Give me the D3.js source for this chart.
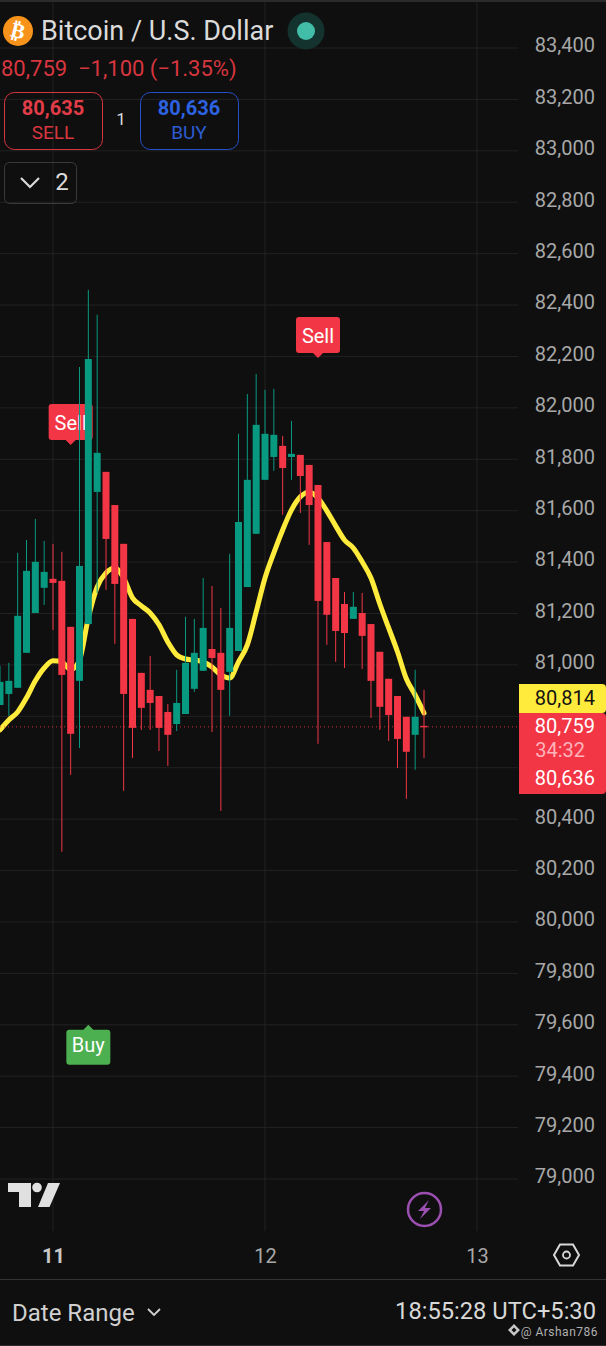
<!DOCTYPE html>
<html>
<head>
<meta charset="utf-8">
<script src="https://cdn.jsdelivr.net/npm/d3@7"></script>
<style>
  html, body { margin: 0; padding: 0; background: #0f0f0f; }
  svg { display: block; }
  text { font-family: Roboto, sans-serif; }
  .domain, .tick line { display: none; }
</style>
</head>
<body>
<div id="container"></div>
<script>
// hourly candles, hour 0 = start of the 11th
const hours = [-6,-5,-4,-3,-2,-1,0,1,2,3,4,5,6,7,8,9,10,11,12,13,14,15,16,17,18,19,20,21,22,23,24,25,26,27,28,29,30,31,32,33,34,35,36,37,38,39,40,41,42];
const opens = [80844,80887,80911,81047,81202,81300,81335,81327,81148,80938,81159,81673,81751,81622,81471,81179,80969,80903,80879,80817,80770,80809,80907,80977,81062,81047,80973,81054,81303,81510,81720,81809,81852,81809,81817,81778,81700,81478,81338,81237,81179,81202,81159,81051,80946,80879,80798,80728,80763];
const highs = [80996,81008,81436,81486,81568,81482,81471,81440,81148,82159,82459,82362,81751,81622,81471,81179,80969,81035,80879,80848,80981,81187,81179,81338,81307,81222,81432,81899,82054,82132,82070,82074,81891,81949,81817,81778,81700,81478,81338,81284,81284,81280,81159,81051,80946,80879,80798,80981,80903];
const lows = [80844,80802,80911,81047,81202,81233,81136,80273,80572,80677,81159,81280,81292,81082,80510,80638,80747,80747,80665,80607,80743,80809,80895,80977,80739,80432,80802,81054,81303,81510,81720,81755,81584,81720,81591,81467,80693,81078,81012,80988,81179,80984,80794,80747,80704,80599,80479,80592,80638];
const closes = [80934,80938,81191,81366,81401,81362,81319,80961,80732,81385,82190,81825,81490,81315,80887,80755,80833,80852,80755,80728,80852,81008,81047,81144,81027,80903,81144,81556,81720,81934,81899,81895,81766,81821,81735,81622,81249,81195,81132,81124,81226,81113,80938,80837,80805,80712,80662,80798,80759];
const maValues = [80747,80786,80817,80872,80938,80988,81016,81012,80981,81019,81183,81303,81358,81377,81338,81261,81230,81202,81156,81089,81039,81023,81019,81012,80992,80961,80949,81012,81078,81206,81338,81436,81525,81603,81654,81673,81650,81599,81541,81486,81455,81401,81338,81237,81144,81051,80946,80883,80813];

const priceTicks = [83400,83200,83000,82800,82600,82400,82200,82000,81800,81600,81400,81200,81000,80800,80600,80400,80200,80000,79800,79600,79400,79200,79000];
// 80,800 and 80,600 sit behind the price tags so they get no label
const priceLabels = [83400,83200,83000,82800,82600,82400,82200,82000,81800,81600,81400,81200,81000,80400,80200,80000,79800,79600,79400,79200,79000];
const dayTicks = [0,24,48];
const dayLabels = ["11","12","13"];

const signalNames = ["Sell","Sell","Buy"];
const signalHours = [2,30,4];
const signalPrices = [81856,82194,79600];

const lastPrice = 80759;

const width = 606, height = 1346, chartRight = 518, chartBottom = 1231;
const green = "#089981", red = "#f23645", yellow = "#ffeb3b", bg = "#0f0f0f", grid = "#222222", axisText = "#a8a8a8";

const xScale = d3.scaleLinear().domain([0,48]).range([53,477]);
const yScale = d3.scaleLinear().domain([83400,79000]).range([48,1179]);

const svg = d3.select("#container").append("svg")
  .attr("width",width)
  .attr("height",height)
  .style("background",bg);

svg.append("rect").attr("width",width).attr("height",2).attr("fill","#2b2b2b");

// grid
svg.append("g").selectAll("line").data(priceTicks).enter().append("line")
  .attr("x1",0).attr("x2",chartRight)
  .attr("y1",d => yScale(d)).attr("y2",d => yScale(d))
  .attr("stroke",grid);
svg.append("g").selectAll("line").data(dayTicks).enter().append("line")
  .attr("x1",d => xScale(d)).attr("x2",d => xScale(d))
  .attr("y1",2).attr("y2",chartBottom)
  .attr("stroke",grid);

// price axis, labels sit a little above their grid line
const yAxis = svg.append("g")
  .attr("transform","translate(595,-2.5)")
  .call(d3.axisRight(yScale).tickValues(priceLabels).tickFormat(d3.format(",")).tickSize(0).tickPadding(0));
yAxis.selectAll("text")
  .attr("text-anchor","end")
  .attr("fill",axisText)
  .style("font-size","20px")
  .style("font-family","Roboto, sans-serif");

const xAxis = svg.append("g")
  .attr("transform","translate(0,1249)")
  .call(d3.axisBottom(xScale).tickValues(dayTicks).tickFormat((d,i) => dayLabels[i]).tickSize(0).tickPadding(0));
xAxis.selectAll("text")
  .attr("fill",(d,i) => i === 0 ? "#c8c8c8" : axisText)
  .style("font-size","20px")
  .style("font-family","Roboto, sans-serif")
  .style("font-weight",(d,i) => i === 0 ? "700" : "400");

// moving average goes under the candles
const maLine = d3.line()
  .x((d,i) => xScale(hours[i]))
  .y(d => yScale(d))
  .curve(d3.curveMonotoneX);
svg.append("path")
  .attr("d",maLine(maValues))
  .attr("fill","none")
  .attr("stroke",yellow)
  .attr("stroke-width",5)
  .attr("stroke-linecap","round");

// last price line
svg.append("line")
  .attr("x1",0).attr("x2",chartRight)
  .attr("y1",yScale(lastPrice)).attr("y2",yScale(lastPrice))
  .attr("stroke",red)
  .attr("stroke-opacity",0.85)
  .attr("stroke-dasharray","1 3");

// signal labels, also under the candles
const signals = svg.append("g").selectAll("g").data(signalNames).enter().append("g")
  .attr("transform",(d,i) => `translate(${xScale(signalHours[i])},${yScale(signalPrices[i])})`);
signals.append("path")
  .attr("d",d => d === "Sell"
    ? "M-22,-38 a3,3 0 0 1 3,-3 h38 a3,3 0 0 1 3,3 v30 a3,3 0 0 1 -3,3 h-14 l-5,5 l-5,-5 h-14 a3,3 0 0 1 -3,-3 z"
    : "M-22,8 a3,3 0 0 1 3,-3 h14 l5,-5 l5,5 h14 a3,3 0 0 1 3,3 v29 a3,3 0 0 1 -3,3 h-38 a3,3 0 0 1 -3,-3 z")
  .attr("fill",d => d === "Sell" ? red : "#4caf50");
signals.append("text")
  .attr("x",0)
  .attr("y",d => d === "Sell" ? -15 : 27)
  .attr("text-anchor","middle")
  .attr("fill","#ffffff")
  .style("font-size","20px")
  .text(d => d);

// candles
const candles = svg.append("g").selectAll("g").data(hours).enter().append("g")
  .attr("fill",(d,i) => closes[i] >= opens[i] ? green : red)
  .attr("stroke",(d,i) => closes[i] >= opens[i] ? green : red);
candles.append("line")
  .attr("x1",d => xScale(d)).attr("x2",d => xScale(d))
  .attr("y1",(d,i) => yScale(highs[i]))
  .attr("y2",(d,i) => yScale(lows[i]))
  .attr("stroke-width",1);
candles.append("rect")
  .attr("x",d => xScale(d) - 3.5)
  .attr("width",7)
  .attr("y",(d,i) => yScale(Math.max(opens[i],closes[i])))
  .attr("height",(d,i) => Math.max(1.5,yScale(Math.min(opens[i],closes[i])) - yScale(Math.max(opens[i],closes[i]))))
  .attr("stroke","none");

// header
function addText(txt,x,y,size,fill,anchor,weight) {
  return svg.append("text")
    .attr("x",x).attr("y",y)
    .attr("dominant-baseline","central")
    .attr("text-anchor",anchor || "start")
    .attr("fill",fill)
    .style("font-size",size + "px")
    .style("font-weight",weight || 400)
    .text(txt);
}

svg.append("circle").attr("cx",18).attr("cy",31).attr("r",15).attr("fill","#f7931a");
addText("₿",18,31,21,"#ffffff","middle",700)
  .style("font-family","'DejaVu Sans'")
  .attr("transform","rotate(14 18 31)");
addText("Bitcoin / U.S. Dollar",41,31,27,"#dbdbdb");
svg.append("circle").attr("cx",306).attr("cy",31).attr("r",18.5).attr("fill","#14332e");
svg.append("circle").attr("cx",306).attr("cy",31).attr("r",9).attr("fill","#42bda8");

addText("80,759",1,68,22,"#d8363f");
addText("−1,100 (−1.35%)",78,68,22,"#d8363f");

svg.append("rect").attr("x",4.5).attr("y",92.5).attr("width",98).attr("height",57).attr("rx",10)
  .attr("fill","none").attr("stroke","#d8363f");
addText("80,635",53,108,20,"#e13c47","middle",700);
addText("SELL",53,132,19,"#d8363f","middle");
addText("1",121,119,17,"#dbdbdb","middle");
svg.append("rect").attr("x",140.5).attr("y",92.5).attr("width",98).attr("height",57).attr("rx",10)
  .attr("fill","none").attr("stroke","#2450c8");
addText("80,636",189,108,20,"#2d62e0","middle",700);
addText("BUY",189,132,19,"#2d5cd2","middle");

svg.append("rect").attr("x",4.5).attr("y",162.5).attr("width",72).attr("height",41).attr("rx",5)
  .attr("fill","none").attr("stroke","#3a3a3a");
svg.append("path").attr("d","M21,178 L30,187 L39,178").attr("fill","none").attr("stroke","#dbdbdb").attr("stroke-width",2.2);
addText("2",62,182,24,"#dbdbdb","middle");

// price tags on the right
const tagX = 519, tagW = 87;
svg.append("path")
  .attr("d",`M${tagX},684 h${tagW - 4} a4,4 0 0 1 4,4 v21 a4,4 0 0 1 -4,4 h-${tagW - 4} z`)
  .attr("fill",yellow);
svg.append("path")
  .attr("d",`M${tagX},713 h${tagW - 4} a4,4 0 0 1 4,4 v73 a4,4 0 0 1 -4,4 h-${tagW - 4} z`)
  .attr("fill",red);
addText("80,814",595,697.5,20,"#131313","end");
addText("80,759",595,726,20,"#ffffff","end");
addText("34:32",585,750,20,"#ffb3bb","end");
addText("80,636",595,778,20,"#ffffff","end");

// logo and icons
svg.append("path")
  .attr("d","M8,1183 H31 V1207 H19 V1192 H8 Z M48,1183 H60 L49.5,1207 H38 Z")
  .attr("fill","#e0e0e0");
svg.append("circle").attr("cx",37).attr("cy",1187.5).attr("r",4.8).attr("fill","#e0e0e0");

svg.append("circle").attr("cx",424.5).attr("cy",1209.5).attr("r",16.5)
  .attr("fill","none").attr("stroke","#9b4fb0").attr("stroke-width",2.5);
svg.append("path")
  .attr("d","M429,1200 L418,1211 H424 L420,1219 L431,1208 H425 Z")
  .attr("fill","#9b4fb0");

svg.append("path")
  .attr("d","M554,1255 L560,1244.5 H573 L579,1255 L573,1265.5 H560 Z")
  .attr("fill","none").attr("stroke","#d8d8d8").attr("stroke-width",2);
svg.append("circle").attr("cx",566.5).attr("cy",1255).attr("r",3.5)
  .attr("fill","none").attr("stroke","#d8d8d8").attr("stroke-width",1.8);

// footer
svg.append("line").attr("x1",0).attr("x2",width).attr("y1",1279.5).attr("y2",1279.5).attr("stroke","#333333");
svg.append("line").attr("x1",0).attr("x2",width).attr("y1",1345.5).attr("y2",1345.5).attr("stroke","#2b2b2b");
addText("Date Range",12,1313,24,"#d0d0d0");
svg.append("path").attr("d","M148,1309 L154,1315 L160,1309").attr("fill","none").attr("stroke","#d0d0d0").attr("stroke-width",1.8);
addText("18:55:28 UTC+5:30",596,1310.5,23.7,"#d8d8d8","end");

svg.append("path")
  .attr("d","M514,1324 L520,1330 L514,1336 L508,1330 Z M514,1327.5 L516.5,1330 L514,1332.5 L511.5,1330 Z")
  .attr("fill","#c8c8c8")
  .attr("fill-rule","evenodd");
addText("@ Arshan786",598,1332,12,"#b0b0b0","end").style("letter-spacing","0.5px");
</script>
</body>
</html>
